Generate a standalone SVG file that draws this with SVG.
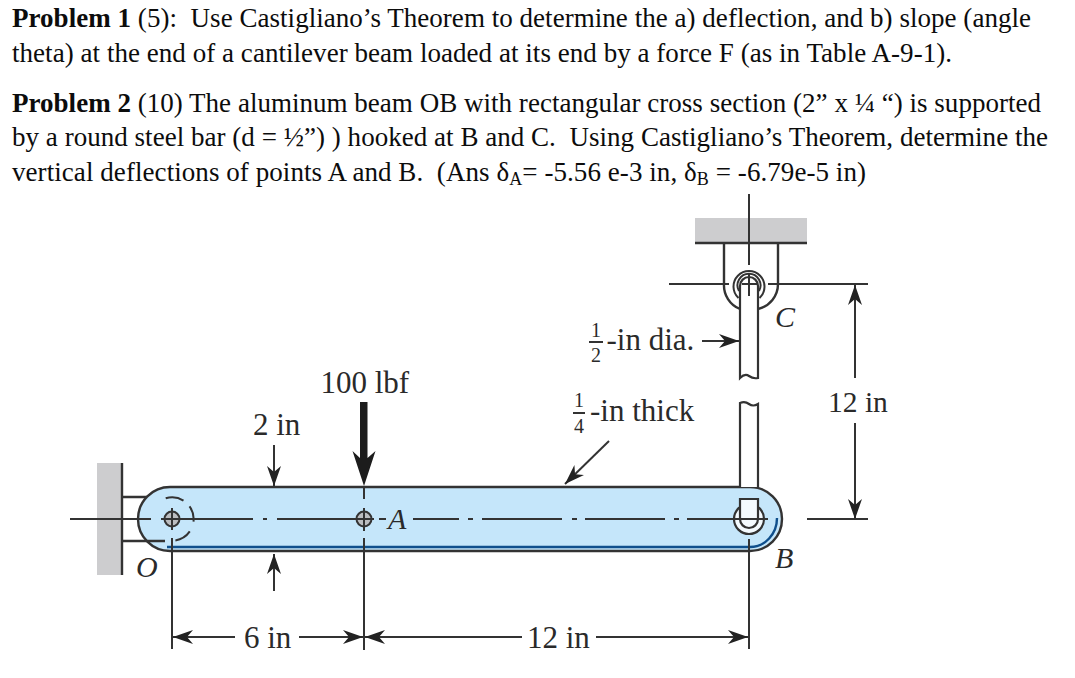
<svg xmlns="http://www.w3.org/2000/svg" width="1075" height="678" viewBox="0 0 1075 678">
<style>
text{font-family:"Liberation Serif","Times New Roman",serif;fill:#0c0c0c}
.p{font-size:27px;white-space:pre}
.d{font-size:31px;fill:#2a2a2a}
.i{font-style:italic}
.s{font-size:18px}
.f{font-size:20px;fill:#2a2a2a}
.l{fill:none;stroke:#333;stroke-width:2}
.t{fill:none;stroke:#333;stroke-width:2.4}
.a{fill:#1c1c1c;stroke:none}
</style>
<defs>
<marker id="ah" markerWidth="22" markerHeight="14" refX="20" refY="7" orient="auto" markerUnits="userSpaceOnUse"><path d="M0 0L20 7L0 14L6 7Z" fill="#222"/></marker>
</defs>
<rect width="1075" height="678" fill="#fff"/>
<g id="problem-text">
<text class="p" x="12" y="26.5" textLength="1019"><tspan font-weight="bold">Problem 1</tspan> (5):  Use Castigliano’s Theorem to determine the a) deflection, and b) slope (angle</text>
<text class="p" x="12" y="61.5" textLength="940">theta) at the end of a cantilever beam loaded at its end by a force F (as in Table A-9-1).</text>
<text class="p" x="12" y="111.5" textLength="1029"><tspan font-weight="bold">Problem 2</tspan> (10) The aluminum beam OB with rectangular cross section (2” x ¼ “) is supported</text>
<text class="p" x="12" y="145.5" textLength="1036">by a round steel bar (d = ½”) ) hooked at B and C.  Using Castigliano’s Theorem, determine the</text>
<text class="p" x="12" y="180.5" textLength="854">vertical deflections of points A and B.  (Ans δ<tspan class="s" dy="4">A</tspan><tspan dy="-4">= -5.56 e-3 in, δ</tspan><tspan class="s" dy="4">B</tspan><tspan dy="-4"> = -6.79e-5 in)</tspan></text>
</g>
<g id="wall-O">
<rect x="97" y="463" width="25" height="112" fill="#cdcdcf"/>
<path class="t" d="M122 463V575M122 497H147"/>
</g>
<g id="support-C">
<rect x="695" y="218" width="112" height="25" fill="#cdcdcf"/>
<path class="t" d="M695 243H807"/>
<path class="t" d="M724 243V284A25.5 25.5 0 0 0 740 309M778 243V284A25.5 25.5 0 0 1 758 309"/>
</g>
<g id="beam">
<rect x="138" y="487" width="644" height="64" rx="32" fill="#c5e6fa" stroke="#333" stroke-width="2.4"/>
<path d="M167 547H750C765 547 777 534 777 518" fill="none" stroke="#0f4f8c" stroke-width="2.4"/>
<path class="t" d="M122 541H165"/>
<path class="l" d="M165.7 498.3A21.7 21.7 0 0 1 183.5 500.6M189.5 506.3A21.7 21.7 0 0 1 193.5 521.6M189.8 531.4A21.7 21.7 0 0 1 175.4 540.4"/>
<circle cx="172" cy="519" r="7.5" fill="#bbbdc0" stroke="#333" stroke-width="2"/>
<circle cx="364" cy="519" r="7.5" fill="#bbbdc0" stroke="#333" stroke-width="2"/>
</g>
<g id="rod">
<path d="M740 487V403Q745 401 749 404T758 404V487" fill="#fff" stroke="#333" stroke-width="2.2"/>
<path class="l" d="M738.5 298A15.5 15.5 0 1 1 759.5 298M739 291A11.5 11.5 0 1 1 759 291"/>
<path d="M740 378V286A9 9 0 0 1 758 286V378Q753 379 749 376T740 378Z" fill="#fff" stroke="#333" stroke-width="2.2"/>
<circle cx="749" cy="519" r="15" fill="#f4fafe" stroke="#333" stroke-width="2.2"/>
<path d="M740 499H758V519A9 9 0 0 1 740 519Z" fill="#f4fafe" stroke="#333" stroke-width="2.2"/>
</g>
<g id="connectors">
<path class="l" d="M70 519H151M161 519H253M263 519H267M277 519H374M379 519H386M413 519H459M468 519H473M482 519H562M572 519H577M585 519H665M674 519H679M687 519H768"/>
<path class="l" d="M172 508V530M172 538V649M364 487V499M364 508V531M364 538V650M749 539V649"/>
<path class="l" d="M749 194V265M749 273V296M669 284H729M742 284H758M768 284H868"/>
<path class="l" d="M807 519H868"/>
<path class="l" marker-end="url(#ah)" d="M274 445V486"/>
<path class="l" marker-end="url(#ah)" d="M274 591V554"/>
<path class="l" marker-end="url(#ah)" d="M855 423V519"/>
<path class="l" marker-end="url(#ah)" d="M855 378V285"/>
<path class="l" marker-end="url(#ah)" d="M235 637H173"/>
<path class="l" marker-end="url(#ah)" d="M299 637H363"/>
<path class="l" marker-end="url(#ah)" d="M522 637H365"/>
<path class="l" marker-end="url(#ah)" d="M596 637H748"/>
<path class="l" marker-end="url(#ah)" d="M702 341H739"/>
<path class="l" marker-end="url(#ah)" d="M609 441L565 484"/>
<path d="M360 402H367.5V458L375.5 451L364 486L352.5 451L360 458Z" class="a"/>
</g>
<g id="labels">
<text class="d" x="320.5" y="392.5">100 lbf</text>
<text class="d" x="253" y="435">2 in</text>
<text class="d" x="828" y="412" style="font-size:29.5px">12 in</text>
<text class="d" x="244" y="648">6 in</text>
<text class="d" x="527" y="648">12 in</text>
<text class="d i" x="136" y="577" style="font-size:30px">O</text>
<text class="d i" x="775" y="568" style="font-size:30px">B</text>
<text class="d i" x="775" y="327" style="font-size:30px">C</text>
<text class="d i" x="388" y="529" style="font-size:30px">A</text>
<g id="frac-half"><text class="f" x="591" y="337">1</text><path class="l" d="M589 342H603"/><text class="f" x="591" y="362">2</text><text class="d" x="606.5" y="350">-in dia.</text></g>
<g id="frac-quarter"><text class="f" x="574" y="407">1</text><path class="l" d="M573 413H585"/><text class="f" x="574" y="433">4</text><text class="d" x="590" y="421">-in thick</text></g>
</g>
</svg>
